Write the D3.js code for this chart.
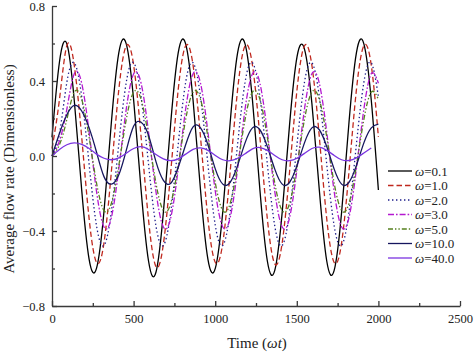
<!DOCTYPE html>
<html lang="en">

<head>
    <title>Average flow rate</title>
    <meta charset="utf-8">
    <script src="https://d3js.org/d3.v7.min.js"></script>
    <style>
        body { margin: 0; background: #fff; }
        svg { display: block; font-family: "Liberation Serif", "Times New Roman", serif; }
    </style>
</head>

<body>
    <div id="container1"></div>
    <script>
        // Data (time step = period / 8)
        const time = [0, 45.5, 91, 136.5, 182, 227.5, 273, 318.5, 364, 409.5, 455, 500.5, 546, 591.5, 637, 682.5,
            728, 773.5, 819, 864.5, 910, 955.5, 1001, 1046.5, 1092, 1137.5, 1183, 1228.5, 1274, 1319.5, 1365, 1410.5,
            1456, 1501.5, 1547, 1592.5, 1638, 1683.5, 1729, 1774.5, 1820, 1865.5, 1911, 1956.5, 2000];

        const flow01 = [0.10, 0.50, 0.598, 0.296, -0.181, -0.551, -0.598, -0.296,
            0.181, 0.551, 0.598, 0.296, -0.181, -0.56, -0.62, -0.30,
            0.181, 0.551, 0.598, 0.296, -0.181, -0.551, -0.598, -0.296,
            0.181, 0.551, 0.598, 0.296, -0.181, -0.56, -0.61, -0.30,
            0.17, 0.53, 0.57, 0.28, -0.181, -0.56, -0.61, -0.30,
            0.181, 0.551, 0.598, 0.296, -0.181];

        const flow1 = [0.04, 0.30, 0.588, 0.483, 0.101, -0.335, -0.568, -0.463,
            -0.081, 0.355, 0.588, 0.483, 0.101, -0.34, -0.59, -0.47,
            -0.081, 0.355, 0.588, 0.483, 0.101, -0.335, -0.568, -0.463,
            -0.081, 0.355, 0.588, 0.483, 0.101, -0.335, -0.575, -0.463,
            -0.081, 0.355, 0.588, 0.483, 0.101, -0.335, -0.568, -0.463,
            -0.081, 0.355, 0.588, 0.483, 0.101];

        const flow2 = [0.0, 0.12, 0.393, 0.497, 0.316, -0.044, -0.373, -0.477,
            -0.296, 0.064, 0.393, 0.497, 0.316, -0.044, -0.373, -0.477,
            -0.296, 0.064, 0.393, 0.497, 0.316, -0.044, -0.373, -0.477,
            -0.296, 0.064, 0.393, 0.497, 0.316, -0.044, -0.373, -0.477,
            -0.296, 0.064, 0.393, 0.497, 0.316, -0.044, -0.373, -0.477,
            -0.296, 0.064, 0.393, 0.497, 0.316];

        const flow3 = [0.0, 0.08, 0.250, 0.439, 0.388, 0.127, -0.190, -0.379,
            -0.328, -0.067, 0.250, 0.439, 0.388, 0.127, -0.190, -0.379,
            -0.328, -0.067, 0.250, 0.439, 0.388, 0.127, -0.190, -0.379,
            -0.328, -0.067, 0.250, 0.439, 0.388, 0.127, -0.190, -0.379,
            -0.328, -0.067, 0.250, 0.439, 0.388, 0.127, -0.190, -0.379,
            -0.328, -0.067, 0.250, 0.439, 0.388];

        const flow5 = [0.0, 0.06, 0.195, 0.341, 0.302, 0.100, -0.145, -0.291,
            -0.252, -0.050, 0.195, 0.341, 0.302, 0.100, -0.145, -0.291,
            -0.252, -0.050, 0.195, 0.341, 0.302, 0.100, -0.145, -0.291,
            -0.252, -0.050, 0.195, 0.341, 0.302, 0.100, -0.145, -0.291,
            -0.252, -0.050, 0.195, 0.341, 0.302, 0.100, -0.145, -0.291,
            -0.252, -0.050, 0.195, 0.341, 0.302];

        const flow10 = [0.00, 0.12, 0.22, 0.27, 0.24, 0.15, 0.02, -0.11,
            -0.15, -0.10, 0.03, 0.16, 0.18, 0.11, -0.03, -0.13,
            -0.145, -0.06, 0.06, 0.155, 0.15, 0.06, -0.07, -0.15,
            -0.14, -0.05, 0.07, 0.15, 0.14, 0.05, -0.07, -0.15,
            -0.14, -0.05, 0.07, 0.15, 0.14, 0.05, -0.07, -0.15,
            -0.14, -0.05, 0.07, 0.15, 0.17];

        const flow40 = [0.0, 0.035, 0.06, 0.07, 0.062, 0.04, 0.01, -0.012,
            -0.02, -0.01, 0.015, 0.04, 0.05, 0.035, 0.008, -0.015,
            -0.025, -0.015, 0.01, 0.035, 0.043, 0.03, 0.003, -0.02,
            -0.025, -0.012, 0.012, 0.038, 0.045, 0.03, 0.003, -0.02,
            -0.025, -0.012, 0.014, 0.04, 0.047, 0.03, 0.003, -0.02,
            -0.024, -0.01, 0.016, 0.043, null];

        const labels = ["0.1", "1.0", "2.0", "3.0", "5.0", "10.0", "40.0"];
        const xTicks = [0, 500, 1000, 1500, 2000, 2500];
        const yTicks = [-0.8, -0.4, 0.0, 0.4, 0.8];

        // Styles per series
        const series = [flow01, flow1, flow2, flow3, flow5, flow10, flow40];
        const colors = ["#000000", "#c0281e", "#1c1c8a", "#b418d0", "#55801e", "#16165e", "#7a34e0"];
        const dashes = [null, "5.5,3", "1.4,2.6", "6,2,1.6,2", "5,2,1.4,2,1.4,2", null, null];

        const width = 474;
        const height = 353;

        const svg = d3.select("#container1")
            .append("svg")
            .attr("width", width)
            .attr("height", height);

        // Scales
        const xScale = d3.scaleLinear().domain([0, 2500]).range([52, 460]);
        const yScale = d3.scaleLinear().domain([-0.8, 0.8]).range([306, 6]);

        // Data lines
        const line = d3.line()
            .defined(d => d.v != null)
            .x(d => xScale(d.t))
            .y(d => yScale(d.v))
            .curve(d3.curveNatural);

        series.forEach((vals, i) => {
            svg.append("path")
                .datum(time.map((t, j) => ({ t: t, v: vals[j] })))
                .attr("d", line)
                .attr("fill", "none")
                .attr("stroke", colors[i])
                .attr("stroke-width", 1.3)
                .attr("stroke-dasharray", dashes[i]);
        });

        // Axes
        const axisColor = "#3a3a3a";

        const xAxis = svg.append("g")
            .attr("transform", "translate(0,306)")
            .call(d3.axisBottom(xScale).tickValues(xTicks).tickSizeInner(-5).tickSizeOuter(0)
                .tickPadding(8).tickFormat(d3.format("d")));
        svg.append("g")
            .attr("transform", "translate(0,306)")
            .call(d3.axisBottom(xScale).tickValues(d3.range(250, 2500, 500)).tickSize(-3).tickFormat(""))
            .select(".domain").remove();

        const yAxis = svg.append("g")
            .attr("transform", "translate(52,0)")
            .call(d3.axisLeft(yScale).tickValues(yTicks).tickSizeInner(-5).tickSizeOuter(0)
                .tickPadding(7).tickFormat(d3.format(".1f")));
        svg.append("g")
            .attr("transform", "translate(52,0)")
            .call(d3.axisLeft(yScale).tickValues([-0.6, -0.2, 0.2, 0.6]).tickSize(-3).tickFormat(""))
            .select(".domain").remove();

        svg.selectAll(".domain, .tick line")
            .attr("stroke", axisColor)
            .attr("stroke-width", 1.3);

        svg.selectAll(".tick text")
            .attr("fill", "#222")
            .style("font-family", "'Liberation Serif', 'Times New Roman', serif")
            .style("font-size", "12.5px");

        // Axis titles
        svg.append("text")
            .attr("transform", "translate(14,169) rotate(-90)")
            .attr("text-anchor", "middle")
            .attr("fill", "#222")
            .style("font-size", "15px")
            .text("Average flow rate (Dimensionless)");

        const xTitle = svg.append("text")
            .attr("x", 257)
            .attr("y", 348)
            .attr("text-anchor", "middle")
            .attr("fill", "#222")
            .style("font-size", "15px");
        xTitle.append("tspan").text("Time (");
        xTitle.append("tspan").style("font-style", "italic").text("ωt");
        xTitle.append("tspan").text(")");

        // Legend
        const legend = svg.append("g");
        labels.forEach((lab, i) => {
            const ly = 171 + i * 14.5;
            legend.append("line")
                .attr("x1", 388)
                .attr("x2", 412)
                .attr("y1", ly)
                .attr("y2", ly)
                .attr("stroke", colors[i])
                .attr("stroke-width", 1.3)
                .attr("stroke-dasharray", dashes[i]);
            const txt = legend.append("text")
                .attr("x", 415)
                .attr("y", ly + 4.5)
                .attr("fill", "#222")
                .style("font-size", "13px");
            txt.append("tspan").style("font-style", "italic").text("ω");
            txt.append("tspan").text("=" + lab);
        });
    </script>
</body>

</html>
